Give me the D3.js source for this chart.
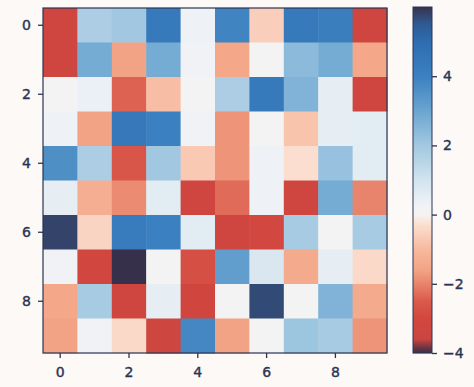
<!DOCTYPE html>
<html>
<head>
<meta charset="utf-8">
<script src="https://cdn.jsdelivr.net/npm/d3@7"></script>
<style>
  html, body { margin: 0; padding: 0; background: #fcf9f6; }
  svg { display: block; }
  text { font-family: "DejaVu Sans", sans-serif; font-size: 14px; fill: #2b3553; }
</style>
</head>
<body>
<svg id="chart" width="474" height="387"></svg>
<script>
// row / column indices
const rows = [0, 1, 2, 3, 4, 5, 6, 7, 8, 9];
const cols = [0, 1, 2, 3, 4, 5, 6, 7, 8, 9];

// cell values, one array per row
const row0 = [-3.3, 1.8, 2.0, 4.3, 0.3, 3.9, -0.6, 4.3, 4.1, -3.3];
const row1 = [-3.3, 2.8, -1.6, 2.8, 0.2, -1.5, 0.1, 2.4, 2.8, -1.5];
const row2 = [0.1, 0.4, -2.4, -0.9, 0.1, 1.8, 4.3, 2.6, 0.5, -3.3];
const row3 = [0.3, -1.6, 4.4, 4.0, 0.2, -1.8, 0.1, -0.8, 0.5, 0.6];
const row4 = [3.6, 1.8, -2.6, 2.0, -0.7, -1.8, 0.3, -0.3, 2.2, 0.6];
const row5 = [0.5, -1.3, -1.9, 0.6, -3.3, -2.3, 0.3, -3.3, 2.8, -2.0];
const row6 = [5.8, -0.5, 4.2, 4.0, 0.6, -3.3, -3.0, 1.9, 0.1, 1.9];
const row7 = [0.2, -3.1, -4.0, 0.05, -2.8, 3.2, 0.8, -1.4, 0.5, -0.4];
const row8 = [-1.5, 1.9, -3.3, 0.5, -3.2, 0.1, 5.7, 0.1, 2.6, -1.4];
const row9 = [-1.6, 0.2, -0.4, -3.4, 3.8, -1.6, 0.1, 2.1, 1.9, -1.8];
const values = [row0, row1, row2, row3, row4, row5, row6, row7, row8, row9];

// tick labels
const axisTicks = [0, 2, 4, 6, 8];
const barTicks = [-4, -2, 0, 2, 4];

// colour map stops (value -> colour)
const cmapStops = [-4.0, -3.85, -3.6, -3.0, -2.5, -2.0, -1.6, -1.0, -0.25, 0, 0.3, 1.0, 2.0, 3.0, 4.0, 5.0, 5.5, 6.0];
const cmapColors = ["#37304a", "#6a3442", "#cc4540", "#d2473f", "#da5a4b", "#e8846c", "#f3a385",
  "#f7b99e", "#fbe1d4", "#f5f3f2", "#eef2f6", "#d2e3ef", "#a2c8e1", "#6aa5d0", "#3b80c0",
  "#2e6db0", "#2f5a92", "#37344d"];

const vmin = -4.0, vmax = 6.0;
const svg = d3.select("#chart");
const plot = {left: 43, top: 8, width: 344, height: 345};
const bar = {left: 413, top: 7, width: 19, height: 346};

const color = d3.scaleLinear().domain(cmapStops).range(cmapColors).interpolate(d3.interpolateRgb).clamp(true);

const x = d3.scaleBand().domain(cols).range([plot.left, plot.left + plot.width]);
const y = d3.scaleBand().domain(rows).range([plot.top, plot.top + plot.height]);

// cells
const cells = [];
rows.forEach(r => cols.forEach(c => cells.push({r, c, v: values[r][c]})));
svg.append("g")
  .selectAll("rect")
  .data(cells)
  .enter().append("rect")
  .attr("x", d => x(d.c))
  .attr("y", d => y(d.r))
  .attr("width", x.bandwidth() + 0.5)
  .attr("height", y.bandwidth() + 0.5)
  .attr("fill", d => color(d.v));

// frame
svg.append("rect")
  .attr("x", plot.left).attr("y", plot.top)
  .attr("width", plot.width).attr("height", plot.height)
  .attr("fill", "none").attr("stroke", "#2b3553").attr("stroke-width", 1.2);

// axes
const xAxis = svg.append("g")
  .attr("transform", `translate(0,${plot.top + plot.height})`)
  .call(d3.axisBottom(x).tickValues(axisTicks).tickSize(5).tickPadding(9));
const yAxis = svg.append("g")
  .attr("transform", `translate(${plot.left},0)`)
  .call(d3.axisLeft(y).tickValues(axisTicks).tickSize(5).tickPadding(7));

// colour bar
const barScale = d3.scaleLinear().domain([vmin, vmax]).range([bar.top + bar.height, bar.top]);
const barSteps = d3.range(bar.height);
svg.append("g")
  .selectAll("rect")
  .data(barSteps)
  .enter().append("rect")
  .attr("x", bar.left)
  .attr("y", i => bar.top + i)
  .attr("width", bar.width)
  .attr("height", 1.2)
  .attr("fill", i => color(barScale.invert(bar.top + i + 0.5)));
svg.append("rect")
  .attr("x", bar.left).attr("y", bar.top)
  .attr("width", bar.width).attr("height", bar.height)
  .attr("fill", "none").attr("stroke", "#2b3553").attr("stroke-width", 1);

const barAxis = svg.append("g")
  .attr("transform", `translate(${bar.left + bar.width},0)`)
  .call(d3.axisRight(barScale).tickValues(barTicks).tickSize(5).tickPadding(6)
    .tickFormat(d => d < 0 ? "\u2212" + Math.abs(d) : d));

[xAxis, yAxis, barAxis].forEach(a => {
  a.select(".domain").remove();
  a.selectAll("line").attr("stroke", "#2b3553").attr("stroke-width", 1.3);
  a.selectAll("text")
    .attr("fill", "#2b3553")
    .attr("stroke", "#2b3553")
    .attr("stroke-width", 0.4)
    .style("font-family", "'DejaVu Sans', sans-serif")
    .style("font-size", "14px");
});
</script>
</body>
</html>
